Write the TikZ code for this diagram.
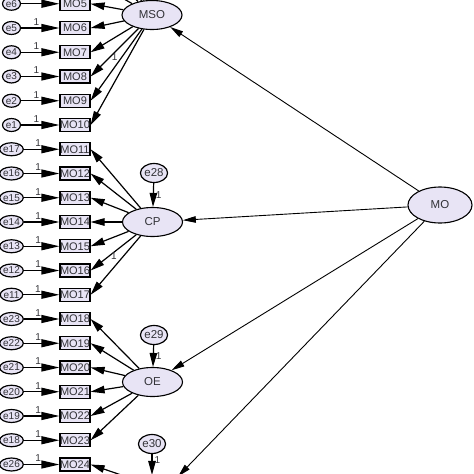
\documentclass[tikz,border=0pt]{standalone}
\usepackage{fontspec}
\setmainfont{Liberation Sans}
\usepackage{xcolor}
\usetikzlibrary{shapes,positioning,calc,arrows.meta}
\definecolor{lav}{RGB}{232,228,245}
\definecolor{txt}{RGB}{50,50,55}
\tikzset{
    item/.style={rectangle, draw, line width=1.2pt, fill=lav, minimum width=30pt, minimum height=13pt, inner sep=0pt, text=txt, font=\fontsize{11}{11}\selectfont},
    errnode/.style={ellipse, draw, line width=1.2pt, fill=lav, minimum width=18pt, minimum height=13pt, inner sep=0pt, text=txt, font=\fontsize{10}{10}\selectfont},
    resid/.style={errnode, minimum width=27pt, minimum height=19pt, font=\fontsize{11.5}{11.5}\selectfont},
    latent/.style={ellipse, draw, line width=1.1pt, fill=lav, minimum width=60pt, minimum height=29pt, inner sep=0pt, text=txt, font=\fontsize{11.5}{11.5}\selectfont},
    errarrow/.style={-{Triangle[length=18pt,width=8pt]}, line width=1.2pt},
    load/.style={-{Triangle[length=14pt,width=7.5pt]}, line width=1.2pt},
    struct/.style={-{Triangle[length=13pt,width=6.5pt]}, line width=0.9pt},
    one/.style={font=\fontsize{10}{10}\selectfont, text=txt, inner sep=1pt}
}
\begin{document}
\begin{tikzpicture}[x=1pt, y=-1pt]
    \useasboundingbox (0,0) rectangle (474,474);
    \clip (0,0) rectangle (474,474);

    % Indicators and their errors
    \foreach \k/\e in {5/6, 6/5, 7/4, 8/3, 9/2, 10/1, 11/17, 12/16, 13/15, 14/14,
                       15/13, 16/12, 17/11, 18/23, 19/22, 20/21, 21/20, 22/19, 23/18, 24/26} {
        \pgfmathsetmacro{\ry}{28+(\k-6)*24.25}
        \node[item] (MO\k) at (75,\ry) {MO\k};
        \node[errnode] (e\e) at (11.5,\ry) {e\e};
        \ifnum\k=5
            \draw[errarrow] (e\e) -- (MO\k);
        \else
            \draw[errarrow] (e\e) -- (MO\k) node[one, pos=0.4, above=1pt] {1};
        \fi
    }
    % indicators above the frame
    \foreach \k in {1,...,4} {
        \pgfmathsetmacro{\ry}{28+(\k-6)*24.25}
        \coordinate (MO\k) at (90,\ry);
    }

    % Latent factors
    \node[latent] (MSO) at (152,15) {MSO};
    \node[latent] (CP) at (152.5,222) {CP};
    \node[latent] (OE) at (152.5,382) {OE};
    \node[latent] (L4) at (165,490) {};
    \node[latent, minimum width=64pt, minimum height=36pt] (MO) at (440,205) {MO};

    % Residuals
    \node[resid] (e28) at (154,173) {e28};
    \node[resid] (e29) at (154,335) {e29};
    \node[resid] (e30) at (152,444) {e30};
    \draw[load] (e28) -- (CP) node[one, midway, right=1pt] {1};
    \draw[load] (e29) -- (OE) node[one, midway, right=1pt] {1};
    \draw[load] (e30) -- (e30 |- L4.north) node[one, pos=0.3, right=1pt] {1};

    % Loadings
    \foreach \k in {1,...,4} {
        \draw[load] (MSO) -- (MO\k);
    }
    \foreach \k in {5,...,10} {
        \draw[load] (MSO) -- (MO\k.east);
    }
    \foreach \k in {11,...,17} {
        \draw[load] (CP) -- (MO\k.east);
    }
    \foreach \k in {18,...,23} {
        \draw[load] (OE) -- (MO\k.east);
    }
    \draw[load] (L4) -- (MO24.east);
    \path (MSO) -- (MO8.east) node[one, pos=0.6, right=1pt] {1};
    \path (CP) -- (MO16.east) node[one, pos=0.6, right=1pt] {1};

    % Second order paths
    \draw[struct] (MO) -- (MSO);
    \draw[struct] (MO) -- (CP);
    \draw[struct] (MO) -- (OE);
    \draw[struct] (MO) -- (L4);
\end{tikzpicture}
\end{document}
